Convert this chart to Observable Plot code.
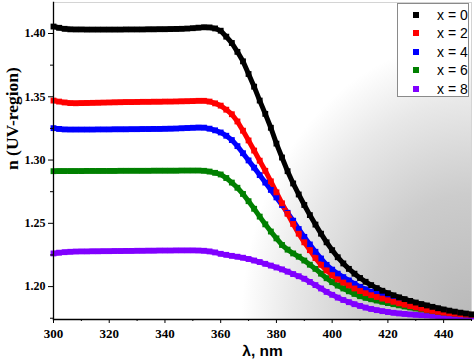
<!DOCTYPE html>
<html><head><meta charset="utf-8">
<script src="https://cdn.jsdelivr.net/npm/d3@7"></script>
<script src="https://cdn.jsdelivr.net/npm/@observablehq/plot@0.6"></script>
<style>
body{margin:0;background:#fff;}
#wrap{position:relative;width:474px;height:364px;}
#legend{position:absolute;left:397px;top:3px;width:72px;height:94px;border:1.7px solid #8a8a8a;background:#fff;box-sizing:border-box;font-family:"Liberation Sans",Arial,sans-serif;font-size:14px;color:#000;}
#legend .row{position:absolute;left:0;height:18px;line-height:18px;width:70px;}
#legend .sw{position:absolute;left:15px;top:6px;width:6px;height:6px;}
#legend .lab{position:absolute;left:39px;top:0;white-space:nowrap;}
</style>
</head><body><div id="wrap"></div>
<script>
const wavelengths = d3.range(300, 451, 2);
const seriesNames = ["x = 0", "x = 2", "x = 4", "x = 6", "x = 8"];
const seriesColors = ["#000000", "#ff0000", "#0000ff", "#008000", "#8000ff"];
const n0 = [1.4055,1.4045,1.4037,1.4033,1.4032,1.4032,1.4031,1.4031,1.4031,1.4031,1.4031,1.4031,1.4031,1.4032,1.4032,1.4032,1.4032,1.4033,1.4033,1.4034,1.4034,1.4035,1.4036,1.4037,1.4039,1.4042,1.4046,1.4049,1.4048,1.4040,1.4022,1.3975,1.3925,1.3855,1.3780,1.3680,1.3580,1.3470,1.3365,1.3255,1.3130,1.3020,1.2912,1.2815,1.2728,1.2645,1.2565,1.2490,1.2418,1.2350,1.2288,1.2232,1.2183,1.2140,1.2102,1.2068,1.2038,1.2012,1.1988,1.1967,1.1948,1.1931,1.1915,1.1901,1.1887,1.1874,1.1862,1.1851,1.1840,1.1829,1.1819,1.1810,1.1802,1.1794,1.1787,1.1780];
const n2 = [1.3470,1.3462,1.3455,1.3450,1.3449,1.3450,1.3451,1.3452,1.3453,1.3454,1.3455,1.3456,1.3457,1.3458,1.3458,1.3459,1.3460,1.3460,1.3461,1.3461,1.3462,1.3462,1.3463,1.3464,1.3465,1.3466,1.3468,1.3468,1.3462,1.3448,1.3430,1.3398,1.3362,1.3305,1.3232,1.3155,1.3075,1.2995,1.2915,1.2832,1.2745,1.2658,1.2575,1.2495,1.2418,1.2350,1.2288,1.2225,1.2172,1.2128,1.2090,1.2057,1.2032,1.2010,1.1985,1.1965,1.1948,1.1932,1.1918,1.1905,1.1892,1.1880,1.1868,1.1857,1.1846,1.1836,1.1826,1.1816,1.1808,1.1801,1.1795,1.1790,1.1786,1.1782,1.1779,1.1777];
const n4 = [1.3252,1.3246,1.3242,1.3241,1.3241,1.3241,1.3241,1.3241,1.3242,1.3242,1.3242,1.3243,1.3243,1.3243,1.3244,1.3244,1.3245,1.3245,1.3246,1.3246,1.3247,1.3248,1.3249,1.3251,1.3253,1.3255,1.3257,1.3256,1.3248,1.3235,1.3218,1.3192,1.3158,1.3110,1.3054,1.2997,1.2940,1.2881,1.2822,1.2764,1.2705,1.2645,1.2583,1.2521,1.2455,1.2393,1.2333,1.2275,1.2222,1.2172,1.2134,1.2102,1.2075,1.2049,1.2022,1.1998,1.1978,1.1959,1.1943,1.1927,1.1911,1.1895,1.1880,1.1866,1.1854,1.1843,1.1833,1.1824,1.1816,1.1808,1.1801,1.1794,1.1788,1.1783,1.1779,1.1776];
const n6 = [1.2912,1.2913,1.2913,1.2913,1.2913,1.2913,1.2914,1.2914,1.2914,1.2914,1.2914,1.2914,1.2915,1.2915,1.2915,1.2915,1.2915,1.2915,1.2916,1.2916,1.2916,1.2916,1.2916,1.2917,1.2917,1.2917,1.2917,1.2915,1.2909,1.2899,1.2886,1.2858,1.2822,1.2781,1.2732,1.2675,1.2615,1.2553,1.2492,1.2435,1.2381,1.2329,1.2292,1.2262,1.2236,1.2206,1.2173,1.2140,1.2102,1.2066,1.2035,1.2008,1.1985,1.1963,1.1942,1.1924,1.1911,1.1900,1.1890,1.1880,1.1870,1.1861,1.1852,1.1843,1.1835,1.1827,1.1820,1.1813,1.1806,1.1800,1.1795,1.1790,1.1786,1.1782,1.1779,1.1777];
const n8 = [1.2262,1.2268,1.2272,1.2275,1.2277,1.2278,1.2278,1.2279,1.2279,1.2280,1.2280,1.2281,1.2281,1.2282,1.2282,1.2283,1.2283,1.2284,1.2284,1.2285,1.2285,1.2285,1.2286,1.2286,1.2286,1.2286,1.2285,1.2283,1.2278,1.2270,1.2259,1.2251,1.2243,1.2236,1.2228,1.2218,1.2206,1.2194,1.2180,1.2166,1.2151,1.2136,1.2118,1.2099,1.2082,1.2062,1.2037,1.2012,1.1985,1.1958,1.1935,1.1913,1.1894,1.1877,1.1861,1.1847,1.1834,1.1823,1.1814,1.1806,1.1799,1.1793,1.1788,1.1784,1.1780,1.1777,1.1774,1.1772,1.1770,1.1768,1.1767,1.1766,1.1765,1.1764,1.1764,1.1763];
const seriesValues = [n0, n2, n4, n6, n8];
const yMajorTicks = [1.20, 1.25, 1.30, 1.35, 1.40];
const yMinorTicks = [1.175, 1.225, 1.275, 1.325, 1.375];
const xMajorTicks = [300, 320, 340, 360, 380, 400, 420, 440];
const xMinorTicks = [310, 330, 350, 370, 390, 410, 430, 450];

// long table, drawn from x = 8 (bottom layer) to x = 0 (top layer)
const rows = [];
for (let s = seriesNames.length - 1; s >= 0; s--) {
  seriesValues[s].forEach((v, i) => rows.push({w: wavelengths[i], n: v, s: seriesNames[s]}));
}

const serif = "'Liberation Serif','Times New Roman',serif";
const sans = "'Liberation Sans',Arial,sans-serif";

const chart = Plot.plot({
  width: 474, height: 364,
  marginLeft: 53, marginRight: 3, marginTop: 2, marginBottom: 45,
  style: {background: "white", fontFamily: serif, fontWeight: "bold", color: "black", overflow: "visible"},
  x: {domain: [300, 450]},
  y: {domain: [1.174, 1.4245]},
  color: {domain: seriesNames, range: seriesColors},
  marks: [
    Plot.frame({fill: "url(#bggrad)", stroke: "#d4d4d4"}),
    Plot.line(rows, {x: "w", y: "n", z: "s", stroke: "s", strokeWidth: 5}),
    Plot.dot(rows, {x: "w", y: "n", fill: "s", symbol: "square", r: 3.3}),
    Plot.frame({anchor: "left", stroke: "black", strokeWidth: 1.3}),
    Plot.frame({anchor: "bottom", stroke: "black", strokeWidth: 1.3}),
    Plot.axisY({ticks: yMajorTicks, tickSize: 5, tickPadding: 3, tickFormat: d3.format(".2f"), fontSize: 12, label: null}),
    Plot.axisY({ticks: yMinorTicks, tickSize: 3, tickFormat: () => "", label: null}),
    Plot.axisX({ticks: xMajorTicks, tickSize: 4, tickPadding: 5, fontSize: 13, label: null}),
    Plot.axisX({ticks: xMinorTicks, tickSize: 2, tickFormat: () => "", label: null}),
    Plot.text(["λ, nm"], {frameAnchor: "bottom", dy: 36, fontFamily: sans, fontWeight: "bold", fontSize: 15.5, fill: "black"}),
    Plot.text(["n (UV-region)"], {frameAnchor: "left", dx: -41, dy: 9, rotate: -90, fontFamily: serif, fontWeight: "bold", fontSize: 17.5, fill: "black"})
  ]
});

d3.select(chart).insert("defs", ":first-child").html(
  '<radialGradient id="bggrad" cx="1" cy="1" r="0.55" gradientTransform="translate(1,1) scale(1,1.6) translate(-1,-1)">' +
  '<stop offset="0" stop-color="#b9b9b9"/><stop offset="0.45" stop-color="#cccccc"/>' +
  '<stop offset="0.78" stop-color="#e8e8e8"/><stop offset="1" stop-color="#ffffff"/></radialGradient>');

const wrap = d3.select("#wrap");
wrap.node().appendChild(chart);
const legend = wrap.append("div").attr("id", "legend");
seriesNames.forEach((name, i) => {
  const row = legend.append("div").attr("class", "row").style("top", (1.5 + i * 18.5) + "px");
  row.append("div").attr("class", "sw").style("background", seriesColors[i]);
  row.append("div").attr("class", "lab").text(name);
});
</script>
</body></html>
